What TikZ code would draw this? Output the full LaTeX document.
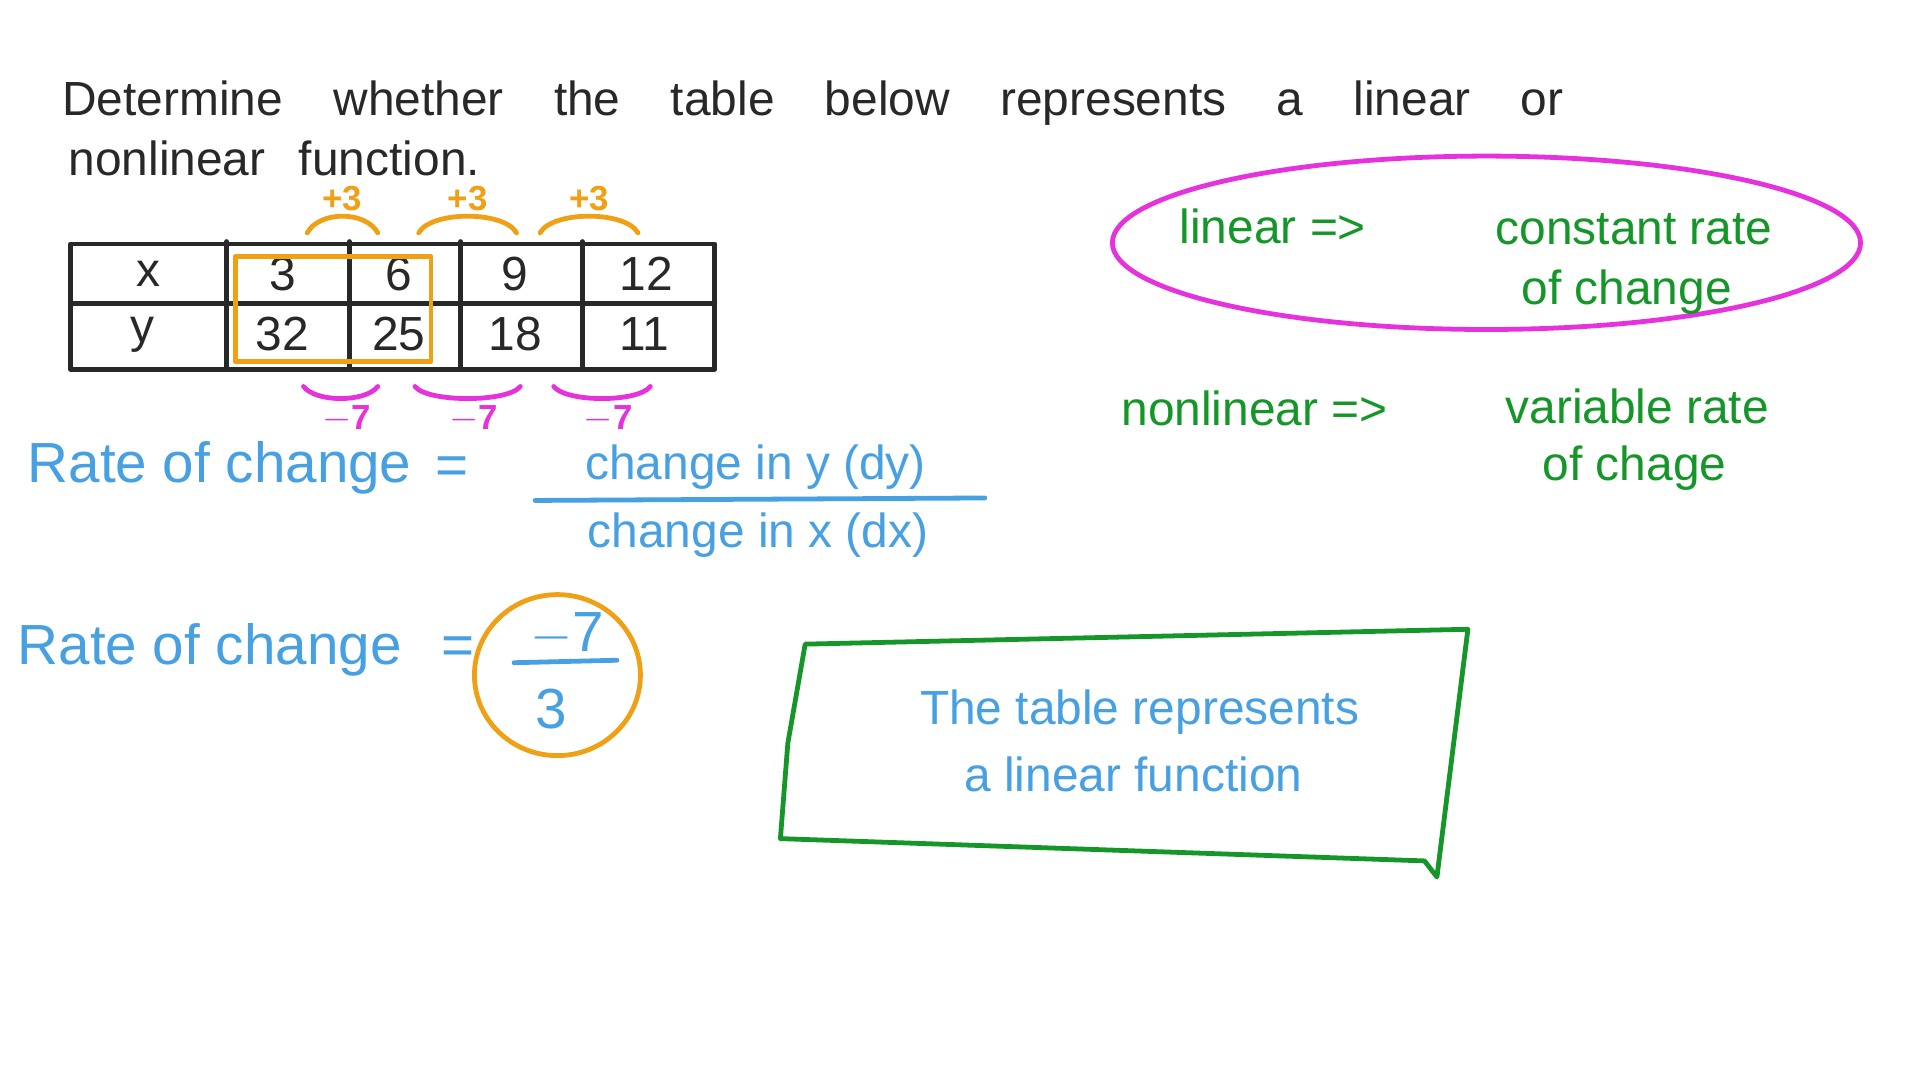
\documentclass[tikz,border=0pt]{standalone}
\usepackage{fontspec}
\setmainfont{Liberation Sans}
\definecolor{hblue}{RGB}{70,160,225}
\definecolor{hgreen}{RGB}{20,150,40}
\definecolor{hmag}{RGB}{230,50,220}
\definecolor{horange}{RGB}{240,160,20}
\definecolor{hblack}{RGB}{40,40,40}
\begin{document}
\begin{tikzpicture}[x=0.02cm,y=-0.02cm,
  txt/.style={font=\fontsize{22}{26}\selectfont,inner sep=0pt},
  big/.style={font=\fontsize{26}{30}\selectfont,inner sep=0pt},
  small/.style={font=\fontsize{16}{18}\selectfont\bfseries,inner sep=0pt},
  pen/.style={line width=2.2pt,line cap=round,line join=round}]
\useasboundingbox[fill=white] (0,0) rectangle (1550,872);
% title
\node[txt,text=hblack,anchor=west] (t1) at (50,83) {\spaceskip=1.05em Determine whether the table below represents a linear or};
\node[txt,text=hblack,anchor=west] (t2) at (55,128) {\spaceskip=0.7em nonlinear function.};
% table
\draw[pen,hblack] (57,197) rectangle (577,298);
\draw[pen,hblack] (57,245) -- (577,245);
\foreach \xx in {183,282,372,470} \draw[pen,hblack] (\xx,195) -- (\xx,298);
\foreach \t/\xx in {x/120,3/228,6/322,9/416,12/522}
  \node[txt,text=hblack] (c\t) at (\xx,221) {\t};
\foreach \t/\xx in {y/115,32/228,25/322,18/416,11/520}
  \node[txt,text=hblack] (d\t) at (\xx,270) {\t};
\draw[pen,horange] (190,207) rectangle (348,292);
% +3 arcs
\foreach \a/\b/\m in {248/305/p1,338/417/p2,436/515/p3}{
  \draw[pen,horange] (\a,188) .. controls (\a+10,170) and (\b-10,170) .. (\b,188);
  \node[small,text=horange] (\m) at ({(\a+\b)/2},160) {+3};
}
% -7 arcs
\foreach \a/\b/\m in {245/305/m1,335/420/m2,447/525/m3}{
  \draw[pen,hmag] (\a,312) .. controls (\a+10,325) and (\b-10,325) .. (\b,312);
  \node[small,text=hmag] (\m) at ({(\a+\b)/2+5},338) {$-$7};
}
% rate of change formula
\node[big,text=hblue,anchor=west] (r1) at (22,378) {Rate of change};
\node[big,text=hblue] (eq1) at (365,380) {=};
\node[txt,text=hblue] (num) at (610,377) {change in y (dy)};
\draw[pen,hblue] (432,404) -- (795,402);
\node[txt,text=hblue] (den) at (612,432) {change in x (dx)};
% second
\node[big,text=hblue,anchor=west] (r2) at (14,525) {Rate of change};
\node[big,text=hblue] (eq2) at (370,525) {=};
\node[big,text=hblue] (n2) at (458,512) {$-$7};
\draw[pen,hblue] (415,535) -- (498,533);
\node[big,text=hblue] (d2) at (445,572) {3};
\draw[pen,horange] (450,545) ellipse (67 and 65);
% right side
\draw[pen,hmag] (1200,196) ellipse (302 and 70);
\node[txt,text=hgreen,anchor=west] (lin) at (952,183) {linear =>};
\node[txt,text=hgreen,anchor=west] (crc) at (1207,185) {constant rate};
\node[txt,text=hgreen,anchor=west] (oc1) at (1228,236) {of change};
\node[txt,text=hgreen,anchor=west] (nl) at (905,330) {nonlinear =>};
\node[txt,text=hgreen,anchor=west] (vr) at (1215,328) {variable rate};
\node[txt,text=hgreen,anchor=west] (oc2) at (1245,378) {of chage};
% conclusion box
\draw[pen,hgreen] (650,520) -- (1185,508) -- (1160,708) -- (1150,695) -- (630,677) -- (636,600) -- cycle;
\node[txt,text=hblue] (c1) at (920,575) {The table represents};
\node[txt,text=hblue] (c2) at (915,625) {a linear function};
\end{tikzpicture}
\end{document}
